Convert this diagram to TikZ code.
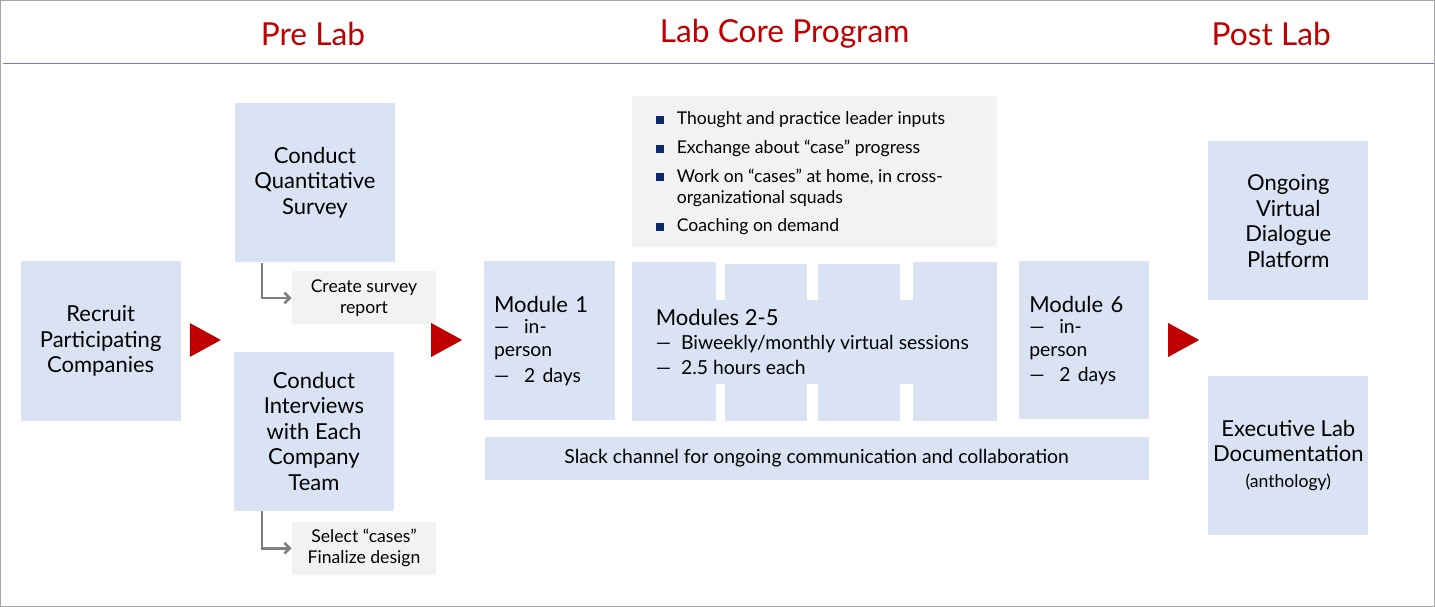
\documentclass[tikz,border=0pt]{standalone}
\usepackage{fontspec}
\setmainfont{Lato}
\usetikzlibrary{positioning,arrows.meta}
\definecolor{boxblue}{HTML}{DAE3F3}
\definecolor{boxgray}{HTML}{F2F2F2}
\definecolor{headred}{HTML}{C00000}
\definecolor{navy}{HTML}{0C2A6B}
\tikzset{
  stage/.style={fill=boxblue, draw=none, minimum width=160*0.02cm, minimum height=159*0.02cm,
    align=center, font=\fontsize{12.5}{14.5}\selectfont, inner sep=2pt},
  note/.style={fill=boxgray, draw=none, minimum width=144*0.02cm, minimum height=53*0.02cm,
    align=center, font=\fontsize{10}{12}\selectfont, inner sep=1pt},
  head/.style={text=headred, font=\fontsize{18}{20}\selectfont},
  go/.style={fill=headred, draw=none},
  link/.style={draw=gray, line width=1.5pt, -{Straight Barb[length=3pt]}},
  bul/.style={fill=navy, minimum size=8*0.02cm, inner sep=0pt}
}
\newcommand{\subsz}{\fontsize{11}{13}\selectfont}
\begin{document}
\begin{tikzpicture}[x=0.02cm, y=-0.02cm]
	% Frame and header line
	\draw[gray!70, line width=0.6pt] (1,1) rectangle (1433,606);
	\draw[blue!55, line width=0.6pt] (3,64) -- (1433,64);

	% Phase headers
	\node[head] (pre) at (313,34) {Pre Lab};
	\node[head] (core) at (784,34) {Lab Core Program};
	\node[head] (post) at (1270,34) {Post Lab};

	% Pre lab
	\node[stage] (recruit) at (101,341) {Recruit\\Participating\\Companies};
	\node[stage] (survey) at (315,183) {Conduct\\Quantitative\\Survey};
	\node[stage] (interview) at (314,431) {Conduct\\Interviews\\with Each\\Company\\Team};
	\node[note] (report) at (364,298) {Create survey\\report};
	\node[note] (cases) at (364,548) {Select ``cases''\\Finalize design};
	\coordinate (sTop) at (262,263);
	\coordinate (iTop) at (262,511);
	\draw[link] (sTop) |- (report.west);
	\draw[link] (iTop) |- (cases.west);

	% Arrows between phases
	\foreach \x in {190,431,1167}
		\fill[go] (\x,323) -- (\x+31,340) -- (\x,357) -- cycle;

	% Core program
	\fill[boxgray] (632,96) rectangle (996,247);
	\foreach \y/\t in {120/{Thought and practice leader inputs},149/{Exchange about ``case'' progress},
		177/{Work on ``cases'' at home, in cross-},227/{Coaching on demand}}
		\node[anchor=west, font=\fontsize{10}{12}\selectfont, inner sep=0pt] at (676,\y) {\t};
	\node[anchor=west, font=\fontsize{10}{12}\selectfont, inner sep=0pt] at (676,199) {organizational squads};
	\foreach \y in {120,149,177,227}
		\node[bul] at (660,\y) {};

	\node[stage, minimum width=131*0.02cm, align=left, anchor=north west, text width=110*0.02cm]
		(mod1) at (483,261) {Module 1\\[-1pt]\subsz --- \ in-person\\\subsz --- \ 2 days};
	\fill[boxblue] (632,262) rectangle (715,421);
	\fill[boxblue] (724,264) rectangle (806,421);
	\fill[boxblue] (817,264) rectangle (899,421);
	\fill[boxblue] (912,262) rectangle (996,421);
	\fill[boxblue] (632,300) rectangle (996,384);
	\node[anchor=west, align=left, font=\fontsize{12.5}{14.5}\selectfont, inner sep=0pt] (mod25) at (655,342)
		{Modules 2-5\\[-1pt]\subsz --- \ Biweekly/monthly virtual sessions\\\subsz --- \ 2.5 hours each};
	\node[stage, minimum width=130*0.02cm, minimum height=158*0.02cm, align=left, anchor=north west, text width=110*0.02cm]
		(mod6) at (1018,261) {Module 6\\[-1pt]\subsz --- \ in-person\\\subsz --- \ 2 days};
	\node[stage, minimum width=663*0.02cm, minimum height=43*0.02cm, font=\fontsize{11}{13}\selectfont]
		(slack) at (816,458) {Slack channel for ongoing communication and collaboration};

	% Post lab
	\node[stage] (dialogue) at (1287,221) {Ongoing\\Virtual\\Dialogue\\Platform};
	\node[stage] (docs) at (1287,455) {Executive Lab\\Documentation\\{\fontsize{10}{12}\selectfont(anthology)}};
\end{tikzpicture}
\end{document}
